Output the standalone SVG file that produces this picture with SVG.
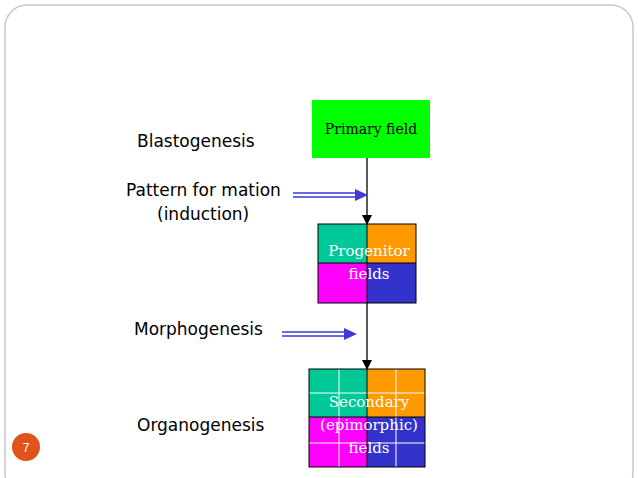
<svg xmlns="http://www.w3.org/2000/svg" width="638" height="478" viewBox="0 0 638 478">
<style>
.lbl{font-family:"DejaVu Sans",sans-serif;font-size:17px;fill:#000}
.in{font-family:"DejaVu Serif",serif;font-size:15px;fill:#fff;text-anchor:middle}
.dbl{stroke:#3b3bd6;stroke-width:1.3;fill:none}
</style>
<defs>
<marker id="ab" markerWidth="10" markerHeight="10" refX="9" refY="5" orient="auto" markerUnits="userSpaceOnUse"><path d="M0,0 L10,5 L0,10Z" fill="#000"/></marker>
<marker id="bb" markerWidth="12" markerHeight="10" refX="11" refY="5" orient="auto" markerUnits="userSpaceOnUse"><path d="M0,0 L12,5 L0,10Z" fill="#3b3bd6"/></marker>
</defs>
<rect x="0" y="0" width="638" height="478" fill="#fff"/>
<rect x="5" y="5" width="628" height="490" rx="22" fill="none" stroke="#c8c8c8" stroke-width="1.5"/>
<rect x="110" y="466" width="420" height="12" fill="#fff"/>
<g id="page"><circle cx="26" cy="447" r="14" fill="#e0531c"/><text x="26" y="452" font-family="Liberation Sans,sans-serif" font-size="12" fill="#fff" text-anchor="middle">7</text></g>
<g id="labels">
<text class="lbl" x="137" y="147">Blastogenesis</text>
<text class="lbl" x="126" y="196">Pattern for mation</text>
<text class="lbl" x="157" y="220">(induction)</text>
<text class="lbl" x="134" y="335">Morphogenesis</text>
<text class="lbl" x="137" y="431">Organogenesis</text>
</g>
<g id="connectors">
<line x1="367" y1="158" x2="367" y2="224" stroke="#000" stroke-width="1.3" marker-end="url(#ab)"/>
<line x1="367" y1="303" x2="367" y2="369" stroke="#000" stroke-width="1.3" marker-end="url(#ab)"/>
<path class="dbl" d="M293,193 H360 M293,197 H360"/><path d="M355,189 L368,195 L355,201Z" fill="#3b3bd6"/>
<path class="dbl" d="M282,332 H350 M282,336 H350"/><path d="M344,328 L357,334 L344,340Z" fill="#3b3bd6"/>
</g>
<g id="primary"><rect x="312" y="100" width="118" height="58" fill="#00ff00"/><text x="371" y="134" font-family="DejaVu Serif,serif" font-size="14" fill="#000" text-anchor="middle">Primary field</text></g>
<g id="progenitor">
<rect x="318" y="224" width="49" height="39" fill="#00c896"/><rect x="367" y="224" width="49" height="39" fill="#ff9900"/>
<rect x="318" y="263" width="49" height="40" fill="#ff00ff"/><rect x="367" y="263" width="49" height="40" fill="#3333cc"/>
<rect x="318" y="224" width="98" height="79" fill="none" stroke="#000" stroke-width="1"/>
<path d="M367,224V303M318,263H416" stroke="#000" stroke-width="1"/>
<text class="in" x="369" y="256">Progenitor</text><text class="in" x="369" y="279">fields</text>
</g>
<g id="secondary">
<rect x="309" y="369" width="58" height="48" fill="#00c896"/><rect x="367" y="369" width="58" height="48" fill="#ff9900"/>
<rect x="309" y="417" width="58" height="50" fill="#ff00ff"/><rect x="367" y="417" width="58" height="50" fill="#3333cc"/>
<path d="M339,369V467M396,369V467M309,393H425M309,443H425" stroke="#fff" stroke-width="1"/>
<rect x="309" y="369" width="116" height="98" fill="none" stroke="#000" stroke-width="1"/>
<path d="M367,369V467M309,417H425" stroke="#000" stroke-width="1"/>
<text class="in" x="369" y="407">Secondary</text><text class="in" x="369" y="430">(epimorphic)</text><text class="in" x="369" y="453">fields</text>
</g>
</svg>
